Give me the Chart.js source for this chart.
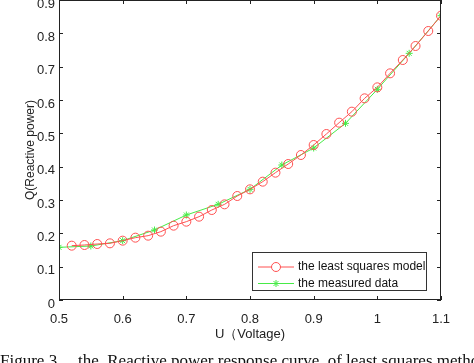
<!DOCTYPE html>
<html>
<head>
<meta charset="utf-8">
<script src="https://cdn.jsdelivr.net/npm/chart.js@4"></script>
<style>
  body { margin: 0; background: #fff; }
  #wrap { position: relative; width: 474px; height: 363px; overflow: hidden; }
  .caption { position: absolute; top: 351px; font: 17px "Liberation Serif", "Times New Roman", serif; color: #111; white-space: pre; }
</style>
</head>
<body>
<div id="wrap">
  <canvas id="myChart" width="474" height="363"></canvas>
  <span class="caption" style="left:0px">Figure 3</span>
  <span class="caption" style="left:78px">the  Reactive power response curve  of least squares method</span>
</div>
<script>
// model curve (red circles)
const modelU = [0.52, 0.54, 0.56, 0.58, 0.60, 0.62, 0.64, 0.66, 0.68, 0.70, 0.72, 0.74, 0.76, 0.78, 0.80,
                0.82, 0.84, 0.86, 0.88, 0.90, 0.92, 0.94, 0.96, 0.98, 1.00, 1.02, 1.04, 1.06, 1.08, 1.10];
const modelQ = [0.163, 0.165, 0.168, 0.170, 0.178, 0.187, 0.193, 0.205, 0.223, 0.235, 0.250, 0.270, 0.287, 0.312, 0.332,
                0.355, 0.382, 0.408, 0.435, 0.465, 0.498, 0.532, 0.565, 0.605, 0.638, 0.680, 0.720, 0.762, 0.807, 0.853];

// measured data (green stars)
const measU = [0.50, 0.55, 0.60, 0.65, 0.70, 0.75, 0.80, 0.85, 0.90, 0.95, 1.00, 1.05, 1.10];
const measQ = [0.158, 0.162, 0.178, 0.210, 0.255, 0.287, 0.332, 0.405, 0.456, 0.530, 0.632, 0.740, 0.853];

const xTickLabels = ['0.5', '0.6', '0.7', '0.8', '0.9', '1', '1.1'];
const yTickLabels = ['0', '0.1', '0.2', '0.3', '0.4', '0.5', '0.6', '0.7', '0.8', '0.9'];

const redColor = 'rgb(255, 80, 80)';
const greenColor = 'rgb(70, 235, 70)';
const axisColor = '#222';
const font = 'Liberation Sans, Arial, sans-serif';

// box round the plot + ticks pointing inward on all four sides
const boxTicks = {
  id: 'boxTicks',
  afterDraw(chart) {
    const {ctx, chartArea: a, scales} = chart;
    const len = 4;
    ctx.save();
    ctx.strokeStyle = axisColor;
    ctx.lineWidth = 1;
    ctx.strokeRect(a.left + 0.5, a.top + 0.5, a.right - a.left - 1, a.bottom - a.top - 1);
    ctx.beginPath();
    scales.x.ticks.forEach(t => {
      const px = Math.round(scales.x.getPixelForValue(t.value)) + 0.5;
      ctx.moveTo(px, a.bottom); ctx.lineTo(px, a.bottom - len);
      ctx.moveTo(px, a.top); ctx.lineTo(px, a.top + len);
    });
    scales.y.ticks.forEach(t => {
      const py = Math.round(scales.y.getPixelForValue(t.value)) + 0.5;
      ctx.moveTo(a.left, py); ctx.lineTo(a.left + len, py);
      ctx.moveTo(a.right, py); ctx.lineTo(a.right - len, py);
    });
    ctx.stroke();
    ctx.restore();
  }
};

// legend drawn inside the plot, bottom right
const insideLegend = {
  id: 'insideLegend',
  afterDraw(chart) {
    const ctx = chart.ctx;
    const bx = 252, by = 252, bw = 174, bh = 38;
    ctx.save();
    ctx.fillStyle = '#fff';
    ctx.fillRect(bx, by, bw, bh);
    ctx.strokeStyle = '#333';
    ctx.lineWidth = 1;
    ctx.strokeRect(bx + 0.5, by + 0.5, bw, bh);
    chart.data.datasets.forEach((ds, i) => {
      const cy = by + 15 + i * 16.5;
      ctx.strokeStyle = ds.borderColor;
      ctx.beginPath();
      ctx.moveTo(258, cy); ctx.lineTo(294, cy);
      ctx.stroke();
      Chart.helpers.drawPoint(ctx, {
        pointStyle: ds.pointStyle, radius: ds.pointRadius, rotation: 0, borderWidth: 1
      }, 276, cy);
      ctx.fillStyle = '#111';
      ctx.font = '12px ' + font;
      ctx.textBaseline = 'middle';
      ctx.fillText(ds.label, 298, cy);
    });
    ctx.restore();
  }
};

const config = {
  type: 'line',
  data: {
    datasets: [
      {
        label: 'the least squares model',
        data: modelU.map((u, i) => ({x: u, y: modelQ[i]})),
        borderColor: redColor,
        borderWidth: 1,
        pointStyle: 'circle',
        pointRadius: 4.5,
        pointBackgroundColor: 'rgba(0,0,0,0)',
        pointBorderColor: redColor,
        pointBorderWidth: 1,
        tension: 0
      },
      {
        label: 'the measured data',
        data: measU.map((u, i) => ({x: u, y: measQ[i]})),
        borderColor: greenColor,
        borderWidth: 1,
        pointStyle: 'star',
        pointRadius: 3.5,
        pointBackgroundColor: greenColor,
        pointBorderColor: greenColor,
        pointBorderWidth: 1,
        tension: 0
      }
    ]
  },
  options: {
    responsive: false,
    animation: false,
    layout: { autoPadding: false, padding: { left: 0, right: 33, top: 0, bottom: 0 } },
    plugins: {
      legend: { display: false },
      tooltip: { enabled: false }
    },
    scales: {
      x: {
        type: 'linear',
        min: 0.5,
        max: 1.1,
        grid: { display: false, drawTicks: false },
        border: { display: false },
        ticks: {
          stepSize: 0.1,
          padding: 12,
          color: axisColor,
          font: { family: font, size: 13 },
          callback: (v, i) => xTickLabels[i]
        },
        title: {
          display: true,
          text: 'U（Voltage)',
          color: axisColor,
          font: { family: font, size: 13 },
          padding: { top: 0, bottom: 21 }
        },
        afterFit: s => { s.height = 63; s.paddingLeft = 0; s.paddingRight = 0; }
      },
      y: {
        min: 0,
        max: 0.9,
        grid: { display: false, drawTicks: false },
        border: { display: false },
        ticks: {
          stepSize: 0.1,
          padding: 4,
          labelOffset: 4,
          color: axisColor,
          font: { family: font, size: 13 },
          callback: (v, i) => yTickLabels[i]
        },
        title: {
          display: true,
          text: 'Q(Reactive power)',
          color: axisColor,
          font: { family: font, size: 12 },
          padding: { top: 23, bottom: 0 }
        },
        afterFit: s => { s.width = 59; s.paddingTop = 0; s.paddingBottom = 0; }
      }
    }
  },
  plugins: [boxTicks, insideLegend]
};

const myChart = new Chart(document.getElementById('myChart'), config);
</script>
</body>
</html>
